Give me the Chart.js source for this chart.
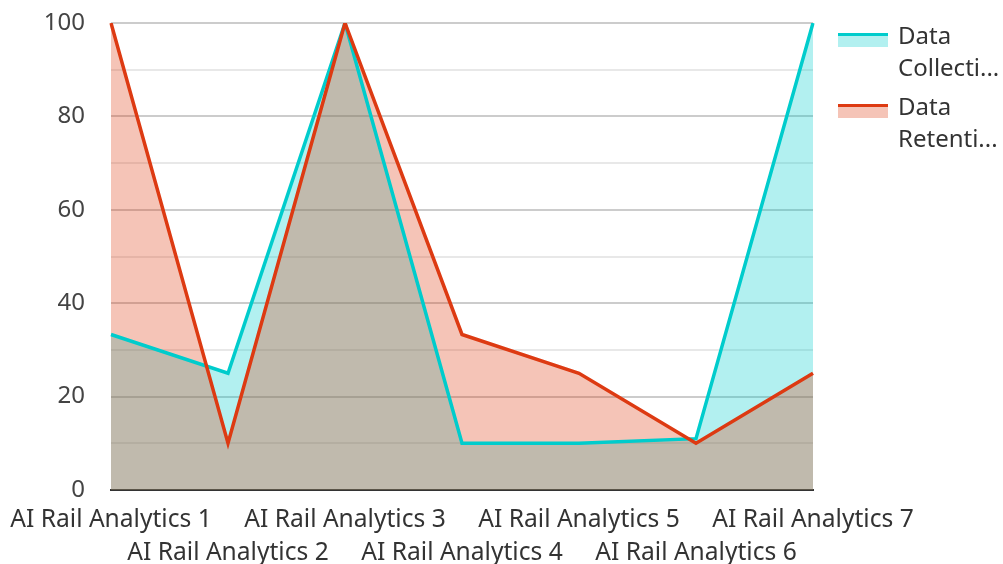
<!DOCTYPE html>
<html>
<head>
<meta charset="utf-8">
<script src="https://cdn.jsdelivr.net/npm/chart.js@4"></script>
<style>
  html, body { margin: 0; padding: 0; background: #fff; }
  #wrap { position: relative; width: 1003px; height: 564px; }
  #legend { position: absolute; left: 838px; top: 0; font-family: "Noto Sans", sans-serif; font-size: 24px; color: #333; }
  .item { position: absolute; left: 0; width: 170px; }
  .swatch { position: absolute; left: 0; width: 50px; height: 11px; }
  .txt { position: absolute; left: 60px; line-height: 32px; white-space: nowrap; }
</style>
</head>
<body>
<div id="wrap">
  <canvas id="c" width="1003" height="564"></canvas>
  <div id="legend"></div>
</div>
<script>
var categories = [
  "AI Rail Analytics 1", "AI Rail Analytics 2", "AI Rail Analytics 3", "AI Rail Analytics 4",
  "AI Rail Analytics 5", "AI Rail Analytics 6", "AI Rail Analytics 7"
];
var seriesNames = ["Data Collection", "Data Retention"];
var collectionValues = [33.3, 25, 100, 10, 10, 11, 100];
var retentionValues = [100, 10, 100, 33.3, 25, 10, 25];
var yTickLabels = [0, 20, 40, 60, 80, 100];

var lineColors = ["rgb(0,204,204)", "rgb(221,58,18)"];
var fillColors = ["rgba(0,204,204,0.3)", "rgba(221,58,18,0.3)"];
var fontFamily = "'Noto Sans', sans-serif";

var chartConfig = {
  type: "line",
  data: {
    labels: categories,
    datasets: [
      {
        label: seriesNames[0],
        data: collectionValues,
        borderColor: lineColors[0],
        backgroundColor: fillColors[0],
        borderWidth: 3.5,
        pointRadius: 0,
        fill: "origin",
        tension: 0,
        order: 1,
      },
      {
        label: seriesNames[1],
        data: retentionValues,
        borderColor: lineColors[1],
        backgroundColor: fillColors[1],
        borderWidth: 3.5,
        pointRadius: 0,
        fill: "origin",
        tension: 0,
        order: 0,
      },
    ],
  },
  options: {
    responsive: false,
    animation: false,
    layout: { padding: { top: 23, right: 190, left: 0, bottom: 0 } },
    plugins: {
      legend: { display: false },
      tooltip: { enabled: false },
      filler: { drawTime: "beforeDatasetsDraw" },
    },
    scales: {
      x: {
        offset: false,
        grid: {
          drawOnChartArea: false,
          drawTicks: true,
          tickLength: 14,
          tickColor: "rgba(0,0,0,0)",
        },
        border: { display: true, color: "#333", width: 2 },
        ticks: {
          autoSkip: false,
          maxRotation: 0,
          padding: 0,
          color: "#333",
          font: { family: fontFamily, size: 24.6, lineHeight: 1.32 },
          callback: function(value, index) {
            var name = categories[index];
            return index % 2 ? ["", name] : name;
          },
        },
        afterFit: function(scale) { scale.height = 74; },
      },
      y: {
        min: 0,
        max: 100,
        grid: {
          drawTicks: true,
          tickLength: 26,
          tickColor: "rgba(0,0,0,0)",
          color: function(ctx) {
            if (ctx.tick && ctx.tick.value === 0) return "rgba(0,0,0,0)";
            return ctx.tick && ctx.tick.value % 20 === 0 ? "#cccccc" : "#e8e8e8";
          },
          lineWidth: 2,
        },
        border: { display: false },
        ticks: {
          stepSize: 10,
          padding: 0,
          color: "#444",
          font: { family: fontFamily, size: 24 },
          callback: function(value) {
            return yTickLabels.indexOf(value) >= 0 ? value : "";
          },
        },
        afterFit: function(scale) { scale.width = 111; },
      },
    },
  },
};

new Chart(document.getElementById("c"), chartConfig);

// legend on the right, names cut to fit two lines
var measure = document.createElement("canvas").getContext("2d");
measure.font = "24px " + fontFamily;
function fitLines(text, maxWidth) {
  var words = text.split(" ");
  var lines = [];
  words.forEach(function(w) {
    if (measure.measureText(w).width > maxWidth) {
      while (w.length > 1 && measure.measureText(w + "...").width > maxWidth) {
        w = w.slice(0, -1);
      }
      w = w + "...";
    }
    lines.push(w);
  });
  return lines;
}

var legend = document.getElementById("legend");
seriesNames.forEach(function(name, i) {
  var top = 19 + i * 71;
  var item = document.createElement("div");
  item.className = "item";
  item.style.top = top + "px";
  var sw = document.createElement("div");
  sw.className = "swatch";
  sw.style.top = "14px";
  sw.style.background = fillColors[i];
  sw.style.borderTop = "3px solid " + lineColors[i];
  var txt = document.createElement("div");
  txt.className = "txt";
  txt.style.top = "0px";
  txt.innerHTML = fitLines(name, 102).join("<br>");
  item.appendChild(sw);
  item.appendChild(txt);
  legend.appendChild(item);
});
</script>
</body>
</html>
